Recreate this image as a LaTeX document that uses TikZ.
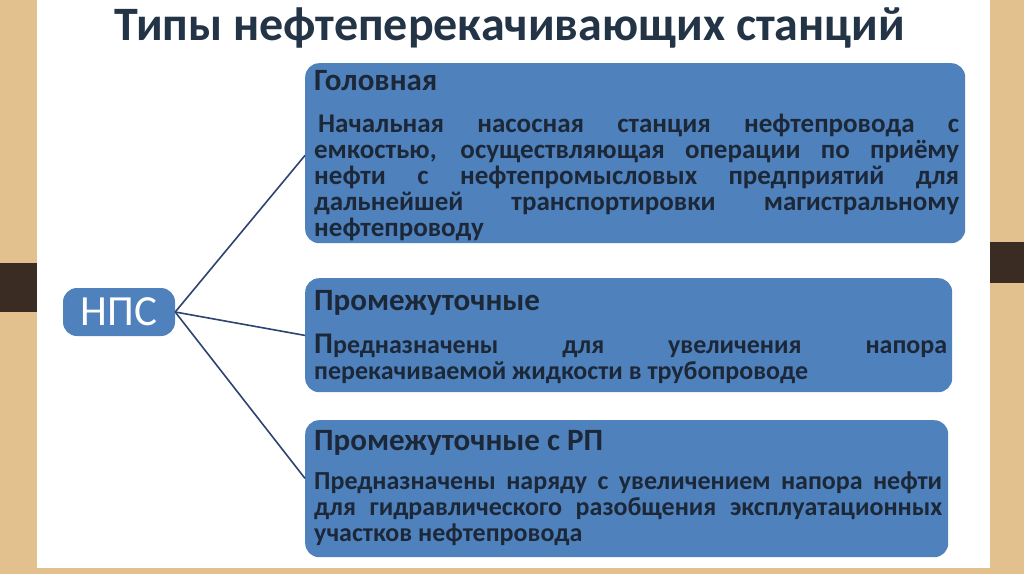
\documentclass[tikz,border=0pt]{standalone}
\usepackage{fontspec}
\setmainfont{Carlito}
\begin{document}
\begin{tikzpicture}[x=1pt,y=-1pt,
  box/.style={fill=boxblue,rounded corners=14pt},
  hdr/.style={anchor=north west,text=txt,font=\bfseries\fontsize{31}{34}\selectfont,inner sep=0},
  body/.style={anchor=north west,text=txt,inner sep=0,align=justify},
  con/.style={draw=linecol,line width=1.6pt}]
\definecolor{boxblue}{HTML}{4F81BD}
\definecolor{txt}{HTML}{1C2838}
\definecolor{linecol}{HTML}{2E4470}
\definecolor{wood}{HTML}{E3C18E}
\definecolor{dark}{HTML}{3A2C22}
\definecolor{title}{HTML}{243447}
\useasboundingbox (0,0) rectangle (1024,574);
\fill[wood] (0,0) rectangle (1024,574);
\fill[dark] (0,263) rectangle (40,312);
\fill[dark] (985,242) rectangle (1024,283);
\fill[white] (37,0) rectangle (990,568);
\node[text=title,font=\bfseries\fontsize{48}{52}\selectfont] (t) at (510,28) {Типы нефтеперекачивающих станций};
\node[box,minimum width=112,minimum height=48] (n) at (119,312) {};
\node[text=white,font=\fontsize{43}{46}\selectfont] at (n) {НПС};
\node[box,anchor=north west,minimum width=660,minimum height=180] (b1) at (305,63) {};
\node[box,anchor=north west,minimum width=647,minimum height=114] (b2) at (305,278) {};
\node[box,anchor=north west,minimum width=643,minimum height=137] (b3) at (305,420) {};
\node[hdr] at (314,70) {Головная};
\node[body,text width=645,font=\bfseries\fontsize{27}{26}\selectfont] at (314,114) {\hspace{4pt}Начальная насосная станция нефтепровода с\linebreak емкостью, осуществляющая операции по приёму\linebreak нефти с нефтепромысловых предприятий для\linebreak дальнейшей транспортировки магистральному\linebreak нефтепроводу};
\node[hdr] at (314,290) {Промежуточные};
\node[body,text width=633,font=\bfseries\fontsize{26}{26}\selectfont] at (314,334) {{\fontsize{30}{26}\selectfont П}редназначены для увеличения напора\linebreak перекачиваемой жидкости в трубопроводе};
\node[hdr] at (314,430) {Промежуточные с РП};
\node[body,text width=628,font=\bfseries\fontsize{26}{26}\selectfont] at (314,472) {Предназначены наряду с увеличением напора нефти\linebreak для гидравлического разобщения эксплуатационных\linebreak участков нефтепровода};
\draw[con] (n.east) -- ([yshift=88pt]b1.south west);
\draw[con] (n.east) -- ([yshift=57pt]b2.south west);
\draw[con] (n.east) -- ([yshift=79pt]b3.south west);
\end{tikzpicture}
\end{document}
